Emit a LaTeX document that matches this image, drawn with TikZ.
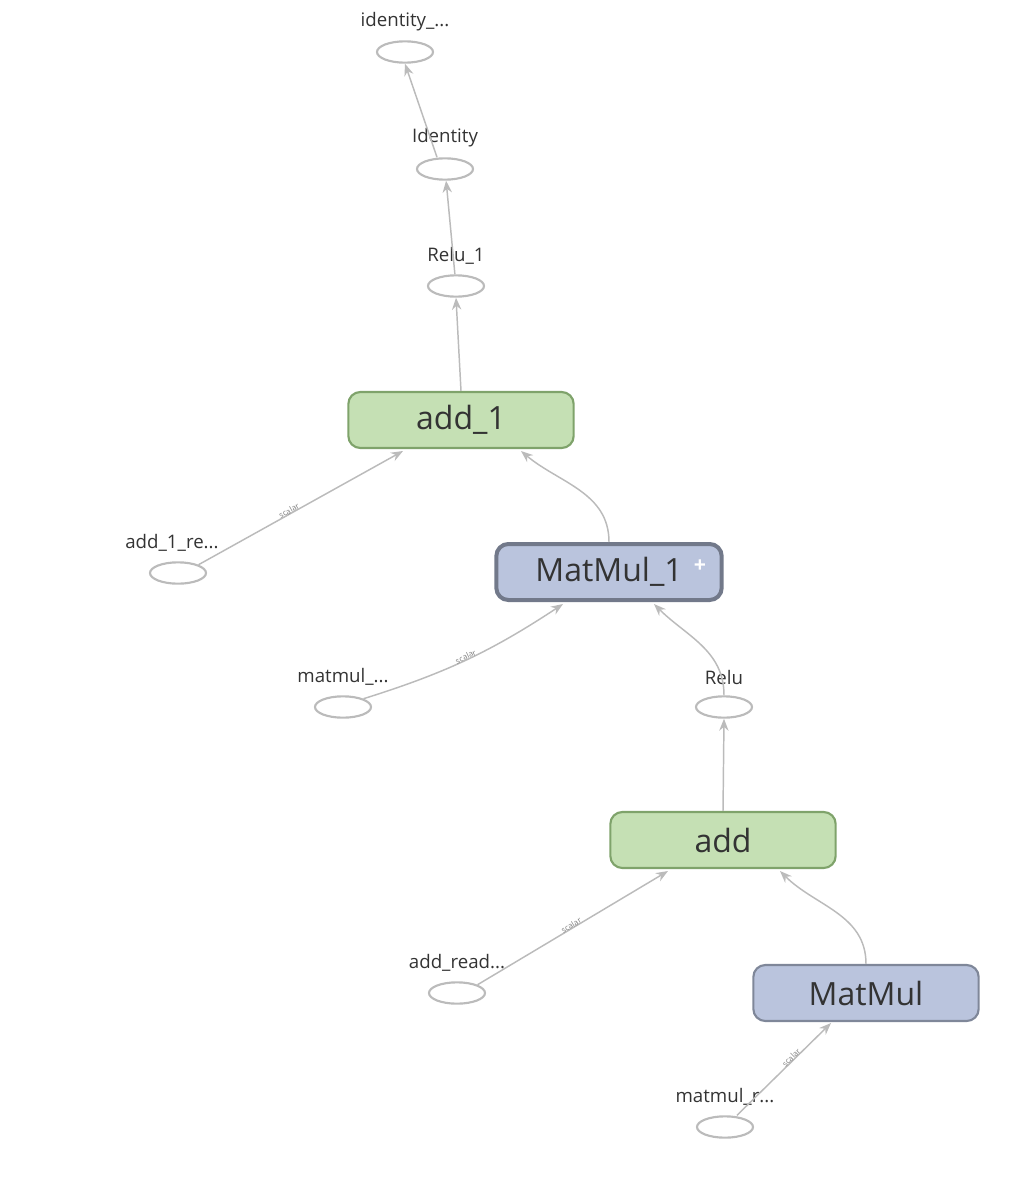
\documentclass[tikz,border=0pt]{standalone}
\usepackage{fontspec}
\setmainfont{Open Sans}
\usetikzlibrary{shapes.geometric,arrows.meta}
\definecolor{txt}{HTML}{333333}
\definecolor{edge}{HTML}{BBBBBB}
\definecolor{gfill}{HTML}{C5E0B4}
\definecolor{gdraw}{HTML}{7FA36B}
\definecolor{bfill}{HTML}{BAC4DD}
\definecolor{bdraw}{HTML}{7F8799}
\begin{document}
\begin{tikzpicture}[x=0.75pt,y=-0.75pt,
  op/.style={ellipse,draw=edge,line width=1.6pt,minimum width=42pt,minimum height=16pt,inner sep=0pt},
  lbl/.style={text=txt,font=\fontsize{14}{16}\selectfont,inner sep=0pt},
  box/.style={rounded corners=9pt,line width=1.6pt,minimum width=169pt,minimum height=42pt,text=txt,font=\fontsize{24}{26}\selectfont},
  green/.style={box,fill=gfill,draw=gdraw},
  blue/.style={box,fill=bfill,draw=bdraw},
  e/.style={draw=edge,line width=1.1pt,-{Stealth[length=9pt,width=7pt]}},
  sc/.style={sloped,above=-1pt,font=\fontsize{6}{6}\selectfont,text=gray,inner sep=0.5pt}]
\useasboundingbox (0,0) rectangle (1012,1192);
\node[op] (idn) at (405,52) {}; \node[lbl] at (405,22) {identity\_...};
\node[op] (Idn) at (445,169) {}; \node[lbl] at (445,138) {Identity};
\node[op] (relu1) at (456,286) {}; \node[lbl] at (456,256) {Relu\_1};
\node[green] (add1) at (461,420) {add\_1};
\node[op] (add1re) at (178,573) {}; \node[lbl] at (172,543) {add\_1\_re...};
\node[blue,line width=3pt,draw=bdraw!90!black,text width=150pt,align=center] (mm1) at (609,572) {MatMul\_1\hspace{14pt}};
\node[text=white,font=\bfseries\fontsize{16}{16}\selectfont] at (700,566) {+};
\node[op] (mmr1) at (343,707) {}; \node[lbl] at (343,677) {matmul\_...};
\node[op] (relu) at (724,707) {}; \node[lbl] at (724,677) {Relu};
\node[green] (add) at (723,840) {add};
\node[op] (addr) at (457,993) {}; \node[lbl] at (457,963) {add\_read...};
\node[blue] (mm) at (866,993) {MatMul};
\node[op] (mmr) at (725,1127) {}; \node[lbl] at (725,1097) {matmul\_r...};

\draw[e] (Idn.north) ++(-8,0) -- (idn.south);
\draw[e] (relu1) -- (Idn);
\draw[e] (add1.north) -- (relu1.south);
\draw[e] (add1re.north east) -- node[sc,pos=0.45]{scalar} (403,451);
\draw[e] (mm1.north) to[out=90,in=-40] (521,451);
\draw[e] (mmr1.north east) to[bend right=8] node[sc,pos=0.5]{scalar} (563,604);
\draw[e] (relu.north) to[out=90,in=-45] (654,604);
\draw[e] (add.north) -- (relu.south);
\draw[e] (addr.north east) -- node[sc,pos=0.5]{scalar} (668,871);
\draw[e] (mm.north) to[out=90,in=-45] (780,871);
\draw[e] (mmr.north) ++(12,0) -- node[sc,pos=0.6]{scalar} (831,1023);
\end{tikzpicture}
\end{document}
